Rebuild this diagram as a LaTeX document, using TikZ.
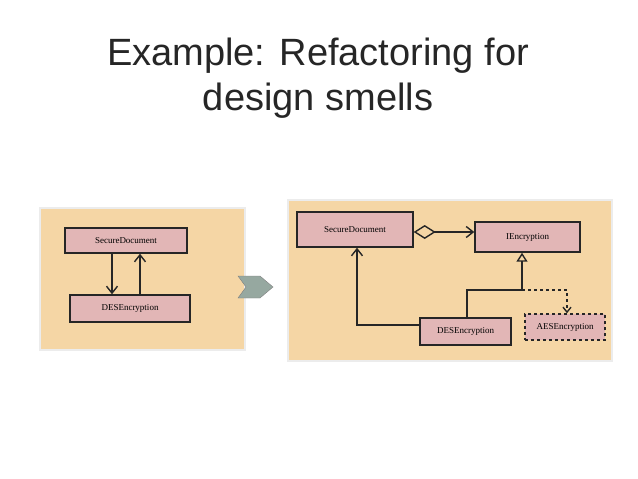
\documentclass[tikz,border=0pt]{standalone}
\usepackage{fontspec}
\setmainfont{Liberation Sans}
\newfontfamily\hand{Liberation Serif}
\usetikzlibrary{arrows.meta}
\definecolor{paper}{RGB}{245,214,165}
\definecolor{boxc}{RGB}{226,182,182}
\definecolor{chev}{RGB}{150,168,160}
\begin{document}
\begin{tikzpicture}[x=1pt,y=-1pt,
  panel/.style={fill=paper,draw=gray!15,line width=2pt},
  cls/.style={draw=black!85,line width=1.4pt,fill=boxc,font=\hand\small,inner sep=0pt},
  con/.style={line width=1.4pt,draw=black!85},
  open/.style={-{Straight Barb[length=7pt,width=11pt]}}]
\useasboundingbox (0,0) rectangle (638,479);
\fill[white] (0,0) rectangle (638,479);
\node[font=\fontsize{38}{45}\selectfont, align=center, text=black!85] (title) at (318,78) {Example: Refactoring for\\design smells};
% left panel
\draw[panel] (40,208) rectangle (245,350);
\node[cls,minimum width=122pt,minimum height=25pt] (sd1) at (126,240.5) {SecureDocument};
\node[cls,minimum width=120pt,minimum height=27pt] (de1) at (130,308.5) {DESEncryption};
\draw[con,open] (sd1.south -| 112,0) -- (de1.north -| 112,0);
\draw[con,open] (de1.north -| 140,0) -- (sd1.south -| 140,0);
% grey arrow
\fill[chev,draw=gray] (238,276) -- (260,276) -- (273,287) -- (260,298) -- (238,298) -- (246,287) -- cycle;
% right panel
\draw[panel] (288,200) rectangle (612,361);
\node[cls,minimum width=116pt,minimum height=35pt] (sd) at (355,229.5) {SecureDocument};
\node[cls,minimum width=105pt,minimum height=30pt] (ie) at (527.5,237) {IEncryption};
\node[cls,minimum width=91pt,minimum height=27pt] (de) at (465.5,331.5) {DESEncryption};
\node[cls,dashed,minimum width=80pt,minimum height=26pt] (ae) at (565,327) {AESEncryption};
\draw[con,{Diamond[open,length=22pt,width=14pt]}-{Straight Barb[length=7pt,width=11pt]}] (sd.east |- 0,232) -- (ie.west |- 0,232);
\coordinate (j) at (522,290);
\draw[con,-{Triangle[open,length=9pt,width=11pt]}] (j) -- (ie.south -| j);
\draw[con] (j) -- (467,290) -- (de.north -| 467,0);
\draw[con,dashed,-{Straight Barb[length=5pt,width=8pt]}] (j) -- (567,290) -- (ae.north -| 567,0);
\draw[con,open] (de.west |- 0,325) -- (357,325) -- (sd.south -| 357,0);
\end{tikzpicture}
\end{document}
